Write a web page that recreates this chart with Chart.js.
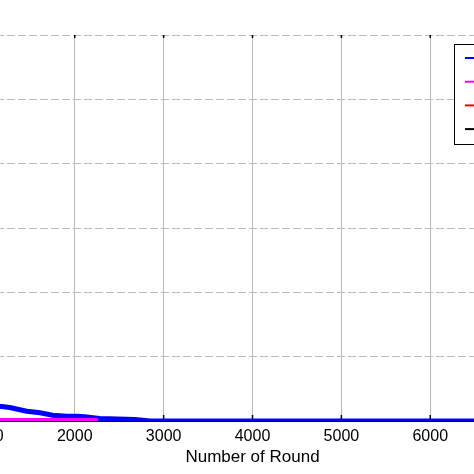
<!DOCTYPE html>
<html>
<head>
<meta charset="utf-8">
<script src="https://cdn.jsdelivr.net/npm/chart.js@4.4.0/dist/chart.umd.min.js"></script>
<style>
  html, body { margin: 0; padding: 0; background: #fff; overflow: hidden; }
  #wrap { position: absolute; left: -163px; top: 0; width: 800px; height: 474px; }
</style>
</head>
<body>
<div id="wrap"><canvas id="roundChart"></canvas></div>
<script>
// series names (legend text is cut off in the picture)
const seriesNames = ["LEACH", "SEP", "DEEC", "Proposed"];
const seriesColors = ["#0000ff", "#ff00ff", "#ff0000", "#000000"];

// blue
const blueRounds = [0, 300, 600, 900, 1100, 1155, 1270, 1460, 1610, 1750, 1910, 2020, 2110, 2280, 2480, 2680, 2790, 2850, 4000, 5500, 7000, 8000];
const blueValues = [60, 48, 38, 30, 25, 23, 21, 15.2, 12.7, 9, 7.5, 7.2, 6.5, 3.9, 3, 2.3, 0.8, 0, 0, 0, 0, 0];

// magenta
const magentaRounds = [0, 300, 600, 900, 1155, 1500, 2000, 2260];
const magentaValues = [14, 8, 3, 1.2, 0.8, 0.7, 0.7, 0.7];

// red
const redRounds = [0, 300, 600, 900];
const redValues = [10, 5, 2, 0.5];

// black
const blackRounds = [0, 300, 600, 800];
const blackValues = [8, 4, 1.5, 0.5];

const xTicks = [0, 1000, 2000, 3000, 4000, 5000, 6000, 7000, 8000];
const xTickLabels = ["0", "1000", "2000", "3000", "4000", "5000", "6000", "7000", "8000"];
const yTicks = [0, 100, 200, 300, 400, 500, 600];
const yTickLabels = ["0", "100", "200", "300", "400", "500", "600"];

function toPoints(xs, ys) {
  return xs.map((x, i) => ({ x: x, y: ys[i] }));
}

const allRounds = [blueRounds, magentaRounds, redRounds, blackRounds];
const allValues = [blueValues, magentaValues, redValues, blackValues];
const drawOrder = [1, 0, 2, 3];

const datasets = seriesNames.map((name, i) => ({
  label: name,
  data: toPoints(allRounds[i], allValues[i]),
  borderColor: seriesColors[i],
  backgroundColor: seriesColors[i],
  borderWidth: 5,
  pointRadius: 0,
  order: drawOrder[i]
}));

// little inward ticks like the original, top and bottom
const innerTicks = {
  id: "innerTicks",
  beforeDatasetsDraw(chart) {
    const ctx = chart.ctx;
    const area = chart.chartArea;
    const xs = chart.scales.x;
    ctx.save();
    ctx.strokeStyle = "#000";
    ctx.lineWidth = 1.5;
    xTicks.forEach(v => {
      const px = xs.getPixelForValue(v);
      ctx.beginPath();
      ctx.moveTo(px, area.top);
      ctx.lineTo(px, area.top + 3);
      ctx.moveTo(px, area.bottom);
      ctx.lineTo(px, area.bottom - 6);
      ctx.stroke();
    });
    ctx.restore();
  }
};

// boxed legend inside the top right corner
const boxLegend = {
  id: "boxLegend",
  afterDraw(chart) {
    const ctx = chart.ctx;
    const area = chart.chartArea;
    const left = area.right - 154;
    const top = area.top + 9;
    const rowH = 23.7;
    ctx.save();
    ctx.font = "15px 'Liberation Sans', Arial, sans-serif";
    ctx.textBaseline = "middle";
    ctx.fillStyle = "#fff";
    ctx.fillRect(left, top, 145, 100);
    ctx.strokeStyle = "#000";
    ctx.lineWidth = 1;
    ctx.strokeRect(left + 0.5, top + 0.5, 145, 100);
    chart.data.datasets.forEach((ds, i) => {
      const y = top + 14 + i * rowH;
      ctx.strokeStyle = ds.borderColor;
      ctx.lineWidth = 2;
      ctx.beginPath();
      ctx.moveTo(left + 11, y);
      ctx.lineTo(left + 41, y);
      ctx.stroke();
      ctx.fillStyle = "#000";
      ctx.fillText(ds.label, left + 48, y);
    });
    ctx.restore();
  }
};

new Chart(document.getElementById("roundChart"), {
  type: "line",
  data: { datasets },
  options: {
    responsive: true,
    maintainAspectRatio: false,
    animation: false,
    layout: { padding: { top: 35, right: 29, bottom: 0, left: 0 } },
    plugins: { legend: { display: false }, tooltip: { enabled: false } },
    scales: {
      x: {
        type: "linear",
        min: 0,
        max: 8000,
        afterBuildTicks(scale) { scale.ticks = xTicks.map(v => ({ value: v })); },
        afterFit(scale) { scale.height = 53; },
        grid: { color: "#b8b8b8", lineWidth: 1, drawTicks: false },
        border: { display: true, color: "#000" },
        ticks: {
          padding: 6,
          color: "#000",
          font: { family: "'Liberation Sans', Arial, sans-serif", size: 16 },
          maxRotation: 0,
          callback: (v, i) => xTickLabels[i]
        },
        title: {
          display: true,
          text: "Number of Round",
          color: "#000",
          font: { family: "'Liberation Sans', Arial, sans-serif", size: 17 },
          padding: { top: 0, bottom: 6 }
        }
      },
      y: {
        min: 0,
        max: 600,
        afterBuildTicks(scale) { scale.ticks = yTicks.map(v => ({ value: v })); },
        afterFit(scale) { scale.width = 60; },
        grid: { color: "#bcbcbc", lineWidth: 1, drawTicks: false },
        border: { display: false, dash: [8, 3] },
        ticks: {
          padding: 6,
          color: "#000",
          font: { family: "'Liberation Sans', Arial, sans-serif", size: 16 },
          callback: (v, i) => yTickLabels[i]
        }
      }
    }
  },
  plugins: [innerTicks, boxLegend]
});
</script>
</body>
</html>
